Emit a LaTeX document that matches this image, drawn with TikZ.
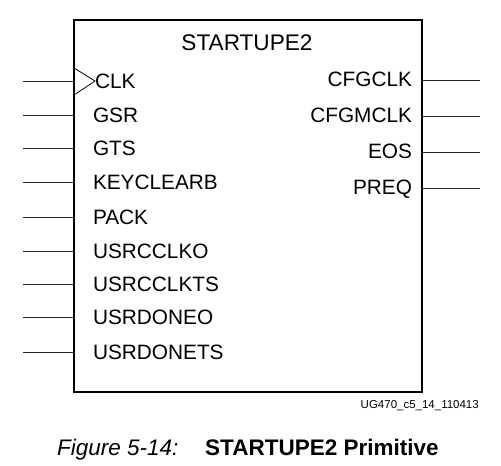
\documentclass[tikz,border=0pt]{standalone}
\usepackage{fontspec}
\setmainfont{Liberation Sans}

\tikzset{
	pinlabel/.style={inner sep=0,outer sep=0,font=\fontsize{20.8}{24}\selectfont},
	pinwire/.style={line width=0.9pt,black!85},
}

\begin{document}
\begin{tikzpicture}[x=1pt,y=-1pt]
	\useasboundingbox (0,0) rectangle (501,466);
	\node[draw,line width=1.7pt,inner sep=0,outer sep=0,minimum width=348pt,minimum height=372pt,anchor=north west] (block) at (74,20) {};
	\node[inner sep=0,anchor=base,font=\fontsize{22.6}{26}\selectfont] (title) at (247,50) {STARTUPE2};
	% inputs
	\coordinate (clkin) at (23,81);
	\coordinate (gsrin) at (23,115);
	\coordinate (gtsin) at (23,148);
	\coordinate (keyin) at (23,182);
	\coordinate (packin) at (23,217);
	\coordinate (cclkoin) at (23,251);
	\coordinate (cclktsin) at (23,284);
	\coordinate (doneoin) at (23,317);
	\coordinate (donetsin) at (23,352);
	\node[pinlabel,anchor=base west] (clk) at (95,88.5) {CLK};
	\node[pinlabel,anchor=base west] (gsr) at (93,122.5) {GSR};
	\node[pinlabel,anchor=base west] (gts) at (93,155.5) {GTS};
	\node[pinlabel,anchor=base west] (key) at (93,189.5) {KEYCLEARB};
	\node[pinlabel,anchor=base west] (pack) at (93,224.5) {PACK};
	\node[pinlabel,anchor=base west] (cclko) at (93,258.5) {USRCCLKO};
	\node[pinlabel,anchor=base west] (cclkts) at (93,291.5) {USRCCLKTS};
	\node[pinlabel,anchor=base west] (doneo) at (93,324.5) {USRDONEO};
	\node[pinlabel,anchor=base west] (donets) at (93,359.5) {USRDONETS};
	\draw[pinwire] (clkin) -- (clkin -| block.west);
	\draw[pinwire] (gsrin) -- (gsrin -| block.west);
	\draw[pinwire] (gtsin) -- (gtsin -| block.west);
	\draw[pinwire] (keyin) -- (keyin -| block.west);
	\draw[pinwire] (packin) -- (packin -| block.west);
	\draw[pinwire] (cclkoin) -- (cclkoin -| block.west);
	\draw[pinwire] (cclktsin) -- (cclktsin -| block.west);
	\draw[pinwire] (doneoin) -- (doneoin -| block.west);
	\draw[pinwire] (donetsin) -- (donetsin -| block.west);
	% clock mark
	\draw[line width=0.8pt] (74,68) -- (95,81) -- (74,95);
	% outputs
	\coordinate (cfgclkout) at (480,80);
	\coordinate (cfgmclkout) at (480,116);
	\coordinate (eosout) at (480,152);
	\coordinate (preqout) at (480,188);
	\node[pinlabel,anchor=base east] (cfgclk) at (412,86.5) {CFGCLK};
	\node[pinlabel,anchor=base east] (cfgmclk) at (412,122.5) {CFGMCLK};
	\node[pinlabel,anchor=base east] (eos) at (412,158.5) {EOS};
	\node[pinlabel,anchor=base east] (preq) at (412,194.5) {PREQ};
	\draw[pinwire] (cfgclkout -| block.east) -- (cfgclkout);
	\draw[pinwire] (cfgmclkout -| block.east) -- (cfgmclkout);
	\draw[pinwire] (eosout -| block.east) -- (eosout);
	\draw[pinwire] (preqout -| block.east) -- (preqout);
	% caption
	\node[inner sep=0,anchor=base east,font=\fontsize{11.5}{14}\selectfont] (figid) at (479,408) {UG470\_c5\_14\_110413};
	\node[inner sep=0,anchor=base west,font=\fontsize{22.5}{26}\selectfont\itshape] (fignum) at (57,455) {Figure 5-14:};
	\node[inner sep=0,anchor=base west,font=\fontsize{22.5}{26}\selectfont\bfseries] (figname) at (205,455) {STARTUPE2 Primitive};
\end{tikzpicture}
\end{document}
